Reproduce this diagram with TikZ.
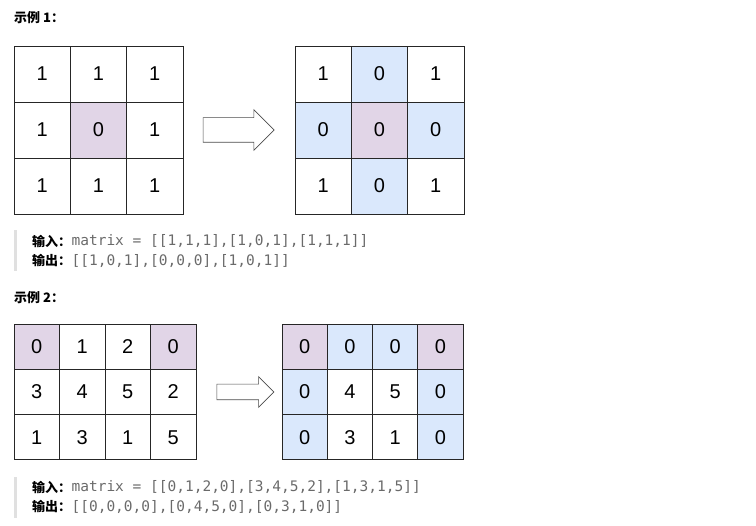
\documentclass[tikz,border=0pt]{standalone}
\usepackage{fontspec}
\setmainfont{Liberation Sans}
\setmonofont{DejaVu Sans Mono}
\newfontfamily\cjk{Noto Sans CJK SC}
\usetikzlibrary{shapes.arrows, positioning}
\definecolor{cellpurple}{HTML}{E1D5E7}
\definecolor{cellblue}{HTML}{DAE8FC}
\definecolor{codegray}{HTML}{6A6A6A}
\definecolor{quotebar}{HTML}{E0E0E0}

\begin{document}
\begin{tikzpicture}[
    x=1pt, y=-1pt,
    cell/.style={
        rectangle,
        draw=black!85,
        line width=0.8pt,
        fill=#1,
        font=\fontsize{20}{20}\selectfont,
        inner sep=0pt
    },
    cell/.default=white,
    bigcell/.style={cell=#1, minimum width=56.3pt, minimum height=56pt},
    smallcell/.style={cell=#1, minimum width=45.5pt, minimum height=45.3pt},
    heading/.style={
        font=\cjk\bfseries\fontsize{13}{13}\selectfont,
        anchor=west,
        inner sep=0pt
    },
    code/.style={
        font=\fontsize{14.5}{14.5}\selectfont,
        anchor=west,
        inner sep=0pt
    },
    bigarrow/.style={
        single arrow,
        draw=black!70,
        fill=white,
        line width=0.6pt
    }
]
\useasboundingbox (0,0) rectangle (756,526);

% Example 1
\node[heading] (title1) at (14,18) {示例 1：};

\foreach \i/\row in {0/{1/white,1/white,1/white},
                     1/{1/white,0/cellpurple,1/white},
                     2/{1/white,1/white,1/white}} {
    \foreach \v/\c [count=\j from 0] in \row
        \node[bigcell=\c] (a-\i-\j) at ({14+56.3*(\j+0.5)},{46+56*(\i+0.5)}) {\v};
}
\foreach \i/\row in {0/{1/white,0/cellblue,1/white},
                     1/{0/cellblue,0/cellpurple,0/cellblue},
                     2/{1/white,0/cellblue,1/white}} {
    \foreach \v/\c [count=\j from 0] in \row
        \node[bigcell=\c] (b-\i-\j) at ({295+56.3*(\j+0.5)},{46+56*(\i+0.5)}) {\v};
}
\node[bigarrow, inner sep=12pt, minimum height=71pt,
      single arrow head extend=8pt] (arrow1) at (232.5,130) {};

% Quote 1
\fill[quotebar] (14,230) rectangle (16.5,271);
\node[heading] (in1) at (32,241) {输入：};
\node[code, right=0pt of in1, codegray] (in1code) {\ttfamily matrix = [[1,1,1],[1,0,1],[1,1,1]]};
\node[heading] (out1) at (32,261) {输出：};
\node[code, right=0pt of out1, codegray] (out1code) {\ttfamily [[1,0,1],[0,0,0],[1,0,1]]};

% Example 2
\node[heading] (title2) at (14,298) {示例 2：};

\foreach \i/\row in {0/{0/cellpurple,1/white,2/white,0/cellpurple},
                     1/{3/white,4/white,5/white,2/white},
                     2/{1/white,3/white,1/white,5/white}} {
    \foreach \v/\c [count=\j from 0] in \row
        \node[smallcell=\c] (c-\i-\j) at ({14+45.5*(\j+0.5)},{324+45.3*(\i+0.5)}) {\v};
}
\foreach \i/\row in {0/{0/cellpurple,0/cellblue,0/cellblue,0/cellpurple},
                     1/{0/cellblue,4/white,5/white,0/cellblue},
                     2/{0/cellblue,3/white,1/white,0/cellblue}} {
    \foreach \v/\c [count=\j from 0] in \row
        \node[smallcell=\c] (d-\i-\j) at ({282+45.3*(\j+0.5)},{324+45.3*(\i+0.5)}) {\v};
}
\node[bigarrow, inner sep=7.5pt, minimum height=57pt,
      single arrow head extend=7.5pt] (arrow2) at (241.5,392) {};

% Quote 2
\fill[quotebar] (14,477) rectangle (16.5,518);
\node[heading] (in2) at (32,487) {输入：};
\node[code, right=0pt of in2, codegray] (in2code) {\ttfamily matrix = [[0,1,2,0],[3,4,5,2],[1,3,1,5]]};
\node[heading] (out2) at (32,507) {输出：};
\node[code, right=0pt of out2, codegray] (out2code) {\ttfamily [[0,0,0,0],[0,4,5,0],[0,3,1,0]]};

\end{tikzpicture}
\end{document}
